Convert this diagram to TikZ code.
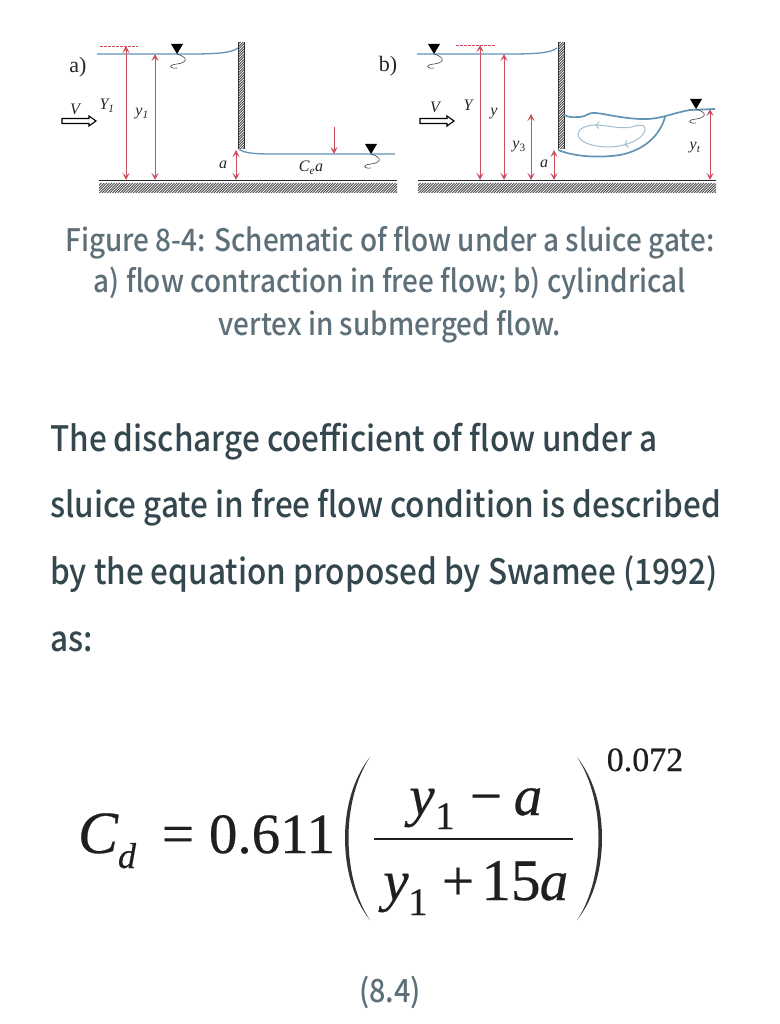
\documentclass[tikz,border=0pt]{standalone}
\usepackage{fontspec}
\setmainfont{Noto Sans CJK SC Medium}[FakeStretch=0.9]
\newfontfamily\timesfont{Liberation Serif}
\newfontfamily\eqfont{Liberation Serif}[FakeBold=0.4]
\usetikzlibrary{calc,arrows.meta,decorations.markings}
\definecolor{watercol}{HTML}{6294B5}
\definecolor{dimcol}{HTML}{C9505B}
\definecolor{capcol}{HTML}{5D6F78}
\definecolor{bodycol}{HTML}{34474F}
\newcommand{\hatchband}[4]{%
  \begin{scope}
    \clip (#1,#2) rectangle (#3,#4);
    \pgfmathsetmacro{\hstart}{#1-(#4-#2)}
    \pgfmathsetmacro{\hnext}{\hstart+2.6}
    \foreach \hx in {\hstart,\hnext,...,#3} {
      \draw[black!70,line width=.9pt] (\hx,#4) -- ++(#4-#2,#2-#4);
    }
  \end{scope}}
\newcommand{\flowsym}[2]{%
  \draw[black,line width=1.1pt,fill=white] (#1,#2-2.5) -- ++(27,0) -- ++(0,-2.5) -- ++(7,5) -- ++(-7,5) -- ++(0,-2.5) -- ++(-27,0) -- cycle;}
\newcommand{\gaugesym}[2]{%
  \fill[wtri] (#1-6,#2-10) -- (#1+6,#2-10) -- (#1,#2) -- cycle;
  \draw[squig] (#1,#2) .. controls (#1+13,#2+4) and (#1+9,#2+9) .. (#1,#2+10) .. controls (#1-10,#2+11) and (#1-7,#2+15) .. (#1,#2+14);}
\tikzset{%
  dimarrow/.style={draw=dimcol,line width=1pt,{Stealth[length=7pt,width=7pt,inset=3pt]}-{Stealth[length=7pt,width=7pt,inset=3pt]}},
  downarrow/.style={draw=dimcol,line width=1pt,-{Stealth[length=7pt,width=7pt,inset=3pt]}},
  wline/.style={draw=watercol,line width=1.3pt},
  wthick/.style={draw=watercol,line width=1.7pt},
  dashline/.style={draw=dimcol,dash pattern=on 2.5pt off 1.5pt,line width=.8pt},
  wtri/.style={fill=black},
  squig/.style={draw=black!75,line width=.6pt},
  bedline/.style={draw=black!85,line width=.9pt},
  gateline/.style={draw=black!80,line width=.8pt},
  lbl/.style={inner sep=0,font=\timesfont\itshape\fontsize{16}{16}\selectfont,text=black!85},
  plbl/.style={inner sep=0,font=\timesfont\fontsize{22}{22}\selectfont,text=black!85},
  captxt/.style={inner sep=0,text=capcol,font=\fontsize{31}{31}\selectfont},
  bodytxt/.style={inner sep=0,anchor=base west,text=bodycol,font=\fontsize{35}{35}\selectfont},
  eqtxt/.style={inner sep=0,anchor=base,text=black!88,font=\eqfont\fontsize{57}{57}\selectfont},
  eqit/.style={eqtxt,font=\eqfont\itshape\fontsize{57}{57}\selectfont},
  eqsub/.style={eqtxt,font=\eqfont\fontsize{39}{39}\selectfont},
  eqpar/.style={fill=black!80}
}
\begin{document}
\begin{tikzpicture}[x=1pt,y=-1pt]
  \useasboundingbox (0,0) rectangle (779,1024);
  \fill[white] (0,0) rectangle (779,1024);
  % panel a
  \node[plbl](la) at (78,67) {a)};
  \node[lbl](va) at (75,109) {V};
  \flowsym{62}{121}
  \coordinate (sa1) at (97,54); \coordinate (sa2) at (238,48);
  \draw[wline] (sa1) -- (190,54) .. controls (215,54) and (232,53) .. (sa2);
  \coordinate (da1) at (100,46); \coordinate (da2) at (138,46);
  \draw[dashline] (da1) -- (da2);
  \gaugesym{177}{54}
  \coordinate (bY1) at (126,180); \coordinate (tY1) at (126,46);
  \draw[dimarrow] (tY1) -- (bY1);
  \coordinate (by1) at (155,180); \coordinate (ty1) at (155,54);
  \draw[dimarrow] (ty1) -- (by1);
  \node[lbl](nY1) at (107,106) {Y\textsubscript{\textit{1}}};
  \node[lbl](ny1) at (142,114) {y\textsubscript{\textit{1}}};
  \hatchband{238}{42}{244}{149}
  \draw[gateline] (238,42) -- (238,149) (244,42) -- (244,149);
  \coordinate (ba) at (236,180); \coordinate (ta) at (236,150);
  \draw[dimarrow] (ta) -- (ba);
  \node[lbl](na) at (223,165) {a};
  \coordinate (sb1) at (239,149); \coordinate (sb2) at (395,154);
  \draw[wline] (sb1) .. controls (243,153) and (255,154) .. (270,154) -- (sb2);
  \coordinate (ca1) at (334,127); \coordinate (ca2) at (334,154);
  \draw[downarrow] (ca1) -- (ca2);
  \gaugesym{371}{154}
  \node[lbl](nC) at (311,168) {C\textsubscript{\textit{e}}a};
  \draw[bedline] (99,180) -- (397,180);
  \hatchband{99}{183}{397}{193}
  % panel b
  \node[plbl](lb) at (388,66) {b)};
  \node[lbl](vb) at (435,107) {V};
  \flowsym{420}{121}
  \coordinate (sc1) at (417,54); \coordinate (sc2) at (557,48);
  \draw[wline] (sc1) -- (510,54) .. controls (535,54) and (551,53) .. (sc2);
  \coordinate (db1) at (456,45); \coordinate (db2) at (495,45);
  \draw[dashline] (db1) -- (db2);
  \gaugesym{434}{54}
  \coordinate (bY) at (480,180); \coordinate (tY) at (480,45);
  \draw[dimarrow] (tY) -- (bY);
  \coordinate (by) at (504,180); \coordinate (ty) at (504,54);
  \draw[dimarrow] (ty) -- (by);
  \coordinate (by3) at (531,180); \coordinate (ty3) at (531,114);
  \draw[dimarrow] (ty3) -- (by3);
  \coordinate (bab) at (554,180); \coordinate (tab) at (554,150);
  \draw[dimarrow] (tab) -- (bab);
  \coordinate (byt) at (710,180); \coordinate (tyt) at (710,109);
  \draw[dimarrow] (tyt) -- (byt);
  \node[lbl](nY) at (468,105) {Y};
  \node[lbl](ny) at (494,114) {y};
  \node[lbl](ny3) at (519,147) {y\textsubscript{\upshape 3}};
  \node[lbl](nab) at (544,164) {a};
  \node[lbl](nyt) at (695,148) {y\textsubscript{\textit{t}}};
  \hatchband{558}{42}{564}{149}
  \draw[gateline] (558,42) -- (558,149) (564,42) -- (564,149);
  \draw[wthick] (564,115) .. controls (570,118) and (574,117) .. (580,117) .. controls (586,117) and (588,112) .. (596,113) .. controls (606,114) and (620,118) .. (640,119) .. controls (660,120) and (672,113) .. (690,110) -- (715,109);
  \draw[wthick] (558,150) .. controls (575,157) and (600,158) .. (620,155) .. controls (645,150) and (660,135) .. (665,117);
  \draw[watercol!60,line width=1pt,postaction={decorate},decoration={markings,mark=at position .02 with {\arrow{<}},mark=at position .52 with {\arrow{>}}}] (596,125) .. controls (612,126) and (625,130) .. (635,126) .. controls (642,124) and (646,126) .. (645,130) .. controls (643,139) and (628,146) .. (610,147) .. controls (592,147) and (578,142) .. (578,134) .. controls (578,128) and (588,125) .. (596,125);
  \gaugesym{696}{109}
  \draw[bedline] (418,180) -- (716,180);
  \hatchband{418}{183}{716}{193}
  % caption
  \node[captxt](c1) at (390,243) {Figure 8-4: Schematic of flow under a sluice gate:};
  \node[captxt](c2) at (390,283) {a) flow contraction in free flow; b) cylindrical};
  \node[captxt](c3) at (390,327) {vertex in submerged flow.};
  % body
  \node[bodytxt](b1) at (50,451) {The discharge coefficient of flow under a};
  \node[bodytxt](b2) at (50,517) {sluice gate in free flow condition is described};
  \node[bodytxt](b3) at (50,584) {by the equation proposed by Swamee (1992)};
  \node[bodytxt](b4) at (50,651) {as:};
  % equation
  \node[eqit,font=\eqfont\itshape\fontsize{60}{60}\selectfont](eC) at (98,853) {C};
  \node[eqsub,font=\eqfont\itshape\fontsize{36}{36}\selectfont](ed) at (127,868) {d};
  \node[eqtxt](eq) at (178,853) {=};
  \node[eqtxt](e0) at (272,853) {0.611};
  \fill[eqpar] (370,757) .. controls (352,780) and (345,810) .. (345,838) .. controls (345,866) and (352,898) .. (370,920) .. controls (355,898) and (348.5,866) .. (348.5,838) .. controls (348.5,810) and (355,780) .. (370,757) -- cycle;
  \fill[eqpar] (577,757) .. controls (595,780) and (602,810) .. (602,838) .. controls (602,866) and (595,898) .. (577,920) .. controls (592,898) and (598.5,866) .. (598.5,838) .. controls (598.5,810) and (592,780) .. (577,757) -- cycle;
  \node[eqit](ny1a) at (422,815) {y};
  \node[eqsub](n1a) at (445,829) {1};
  \node[eqtxt](nmin) at (486,815) {−};
  \node[eqit](naa) at (528,815) {a};
  \coordinate (fr1) at (374,839); \coordinate (fr2) at (573,839);
  \draw[black!88,line width=2.2pt] (fr1) -- (fr2);
  \node[eqit](dy1) at (396,900) {y};
  \node[eqsub](d1) at (418,915) {1};
  \node[eqtxt](dpl) at (458,900) {+};
  \node[eqtxt,font=\eqfont\fontsize{59}{59}\selectfont](d15) at (511,900) {15};
  \node[eqit](daa) at (554,900) {a};
  \node[eqtxt,font=\eqfont\fontsize{34}{34}\selectfont](ee) at (645,771) {0.072};
  \node[captxt,font=\fontsize{32}{32}\selectfont](n84) at (390,992) {(8.4)};
\end{tikzpicture}
\end{document}
